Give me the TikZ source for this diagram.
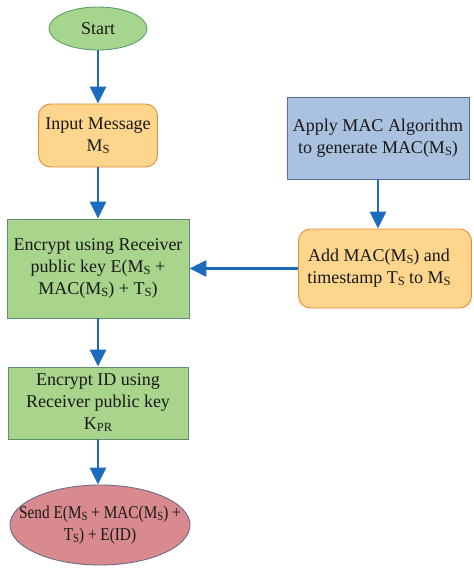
\documentclass[tikz,border=0pt]{standalone}
\usepackage{fontspec}
\setmainfont{Liberation Serif}
\usetikzlibrary{shapes.geometric,arrows.meta}
\definecolor{startfill}{HTML}{A6D68E}
\definecolor{startline}{HTML}{5E9E6A}
\definecolor{orfill}{HTML}{FDD58C}
\definecolor{orline}{HTML}{E48C3A}
\definecolor{bluefill}{HTML}{AAC1DF}
\definecolor{blueline}{HTML}{52709E}
\definecolor{grfill}{HTML}{A8D48B}
\definecolor{grline}{HTML}{5F8F6C}
\definecolor{redfill}{HTML}{D98A8E}
\definecolor{redline}{HTML}{6F6A86}
\definecolor{arrowblue}{HTML}{1B6CBE}
\newcommand{\subs}[1]{\raisebox{-0.25ex}{\fontsize{12.5}{12.5}\selectfont #1}}
\tikzset{
  base/.style={align=center, font=\fontsize{18}{22}\selectfont, text=black!90, line width=0.9pt, inner sep=0pt},
  ovalbox/.style={base, ellipse},
  roundbox/.style={base, rectangle, rounded corners=12pt},
  plainbox/.style={base, rectangle},
  label/.style={base},
  flow/.style={draw=arrowblue, line width=2.6pt, -{Triangle[length=17pt,width=16pt]}}
}
\begin{document}
\begin{tikzpicture}[x=1pt,y=-1pt]
\useasboundingbox (0,0) rectangle (474,571);
\node[ovalbox, draw=startline, fill=startfill, minimum width=98pt, minimum height=43pt] (start) at (98,28.5) {};
\node[label] (starttext) at (start) {Start};
\node[roundbox, draw=orline, fill=orfill, minimum width=119pt, minimum height=63pt] (input) at (98,135.5) {Input Message\\M\subs{S}};
\node[plainbox, draw=blueline, fill=bluefill, minimum width=182pt, minimum height=82pt] (mac) at (378,138.5) {Apply MAC Algorithm\\to generate MAC(M\subs{S})};
\node[roundbox, draw=orline, fill=orfill, minimum width=173pt, minimum height=79pt] (add) at (385,268.5) {};
\node[label] (addtext) at ([xshift=-6pt]add.center) {Add MAC(M\subs{S}) and\\timestamp T\subs{S} to M\subs{S}};
\node[plainbox, draw=grline, fill=grfill, minimum width=182pt, minimum height=99pt] (enc) at (98,268.5) {Encrypt using Receiver\\public key E(M\subs{S} +\\MAC(M\subs{S}) + T\subs{S})};
\node[plainbox, draw=grline, fill=grfill, minimum width=180pt, minimum height=72pt] (encid) at (98,403) {Encrypt ID using\\Receiver public key\\K\subs{PR}};
\node[ovalbox, draw=redline, fill=redfill, minimum width=180pt, minimum height=80pt] (send) at (100,525) {};
\node[label, xscale=0.85, transform shape] (sendtext) at (send) {Send E(M\subs{S} + MAC(M\subs{S}) +\\T\subs{S}) + E(ID)};
\draw[flow] (start.south) -- (start.south |- input.north);
\draw[flow] (input.south) -- (enc.north);
\draw[flow] (enc.south) -- (encid.north);
\draw[flow] (encid.south) -- (encid.south |- send.north);
\draw[flow] (mac.south) -- (mac.south |- add.north);
\draw[flow] (add.west) -- (enc.east);
\end{tikzpicture}
\end{document}
